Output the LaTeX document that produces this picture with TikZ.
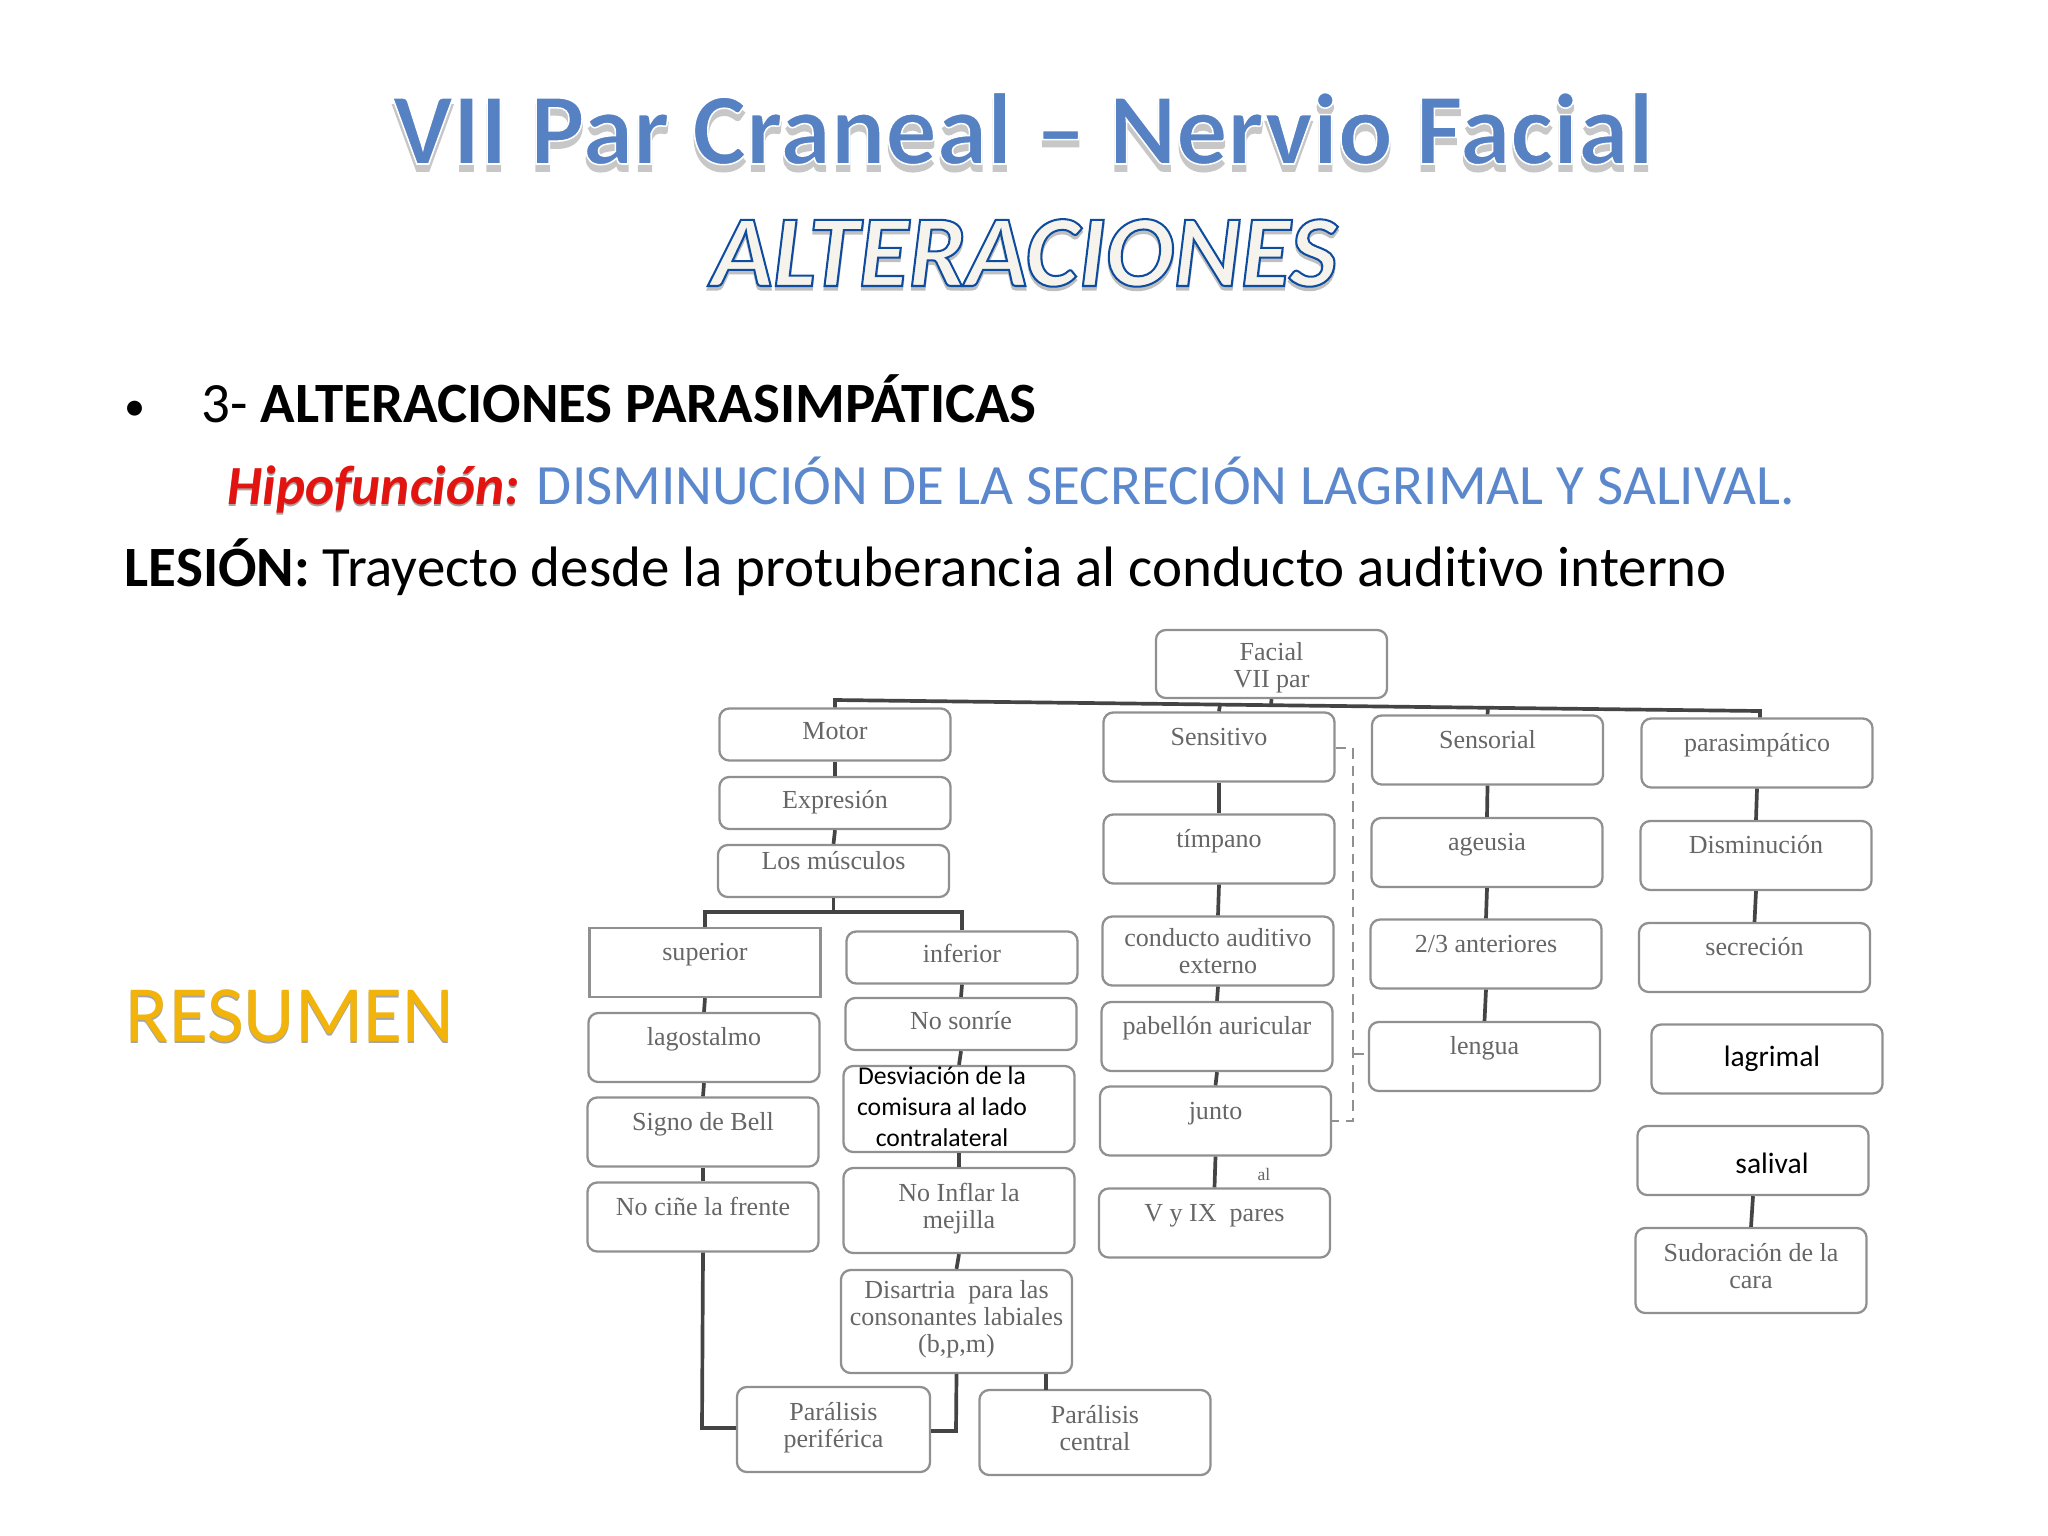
\documentclass[tikz,border=0pt]{standalone}
\usepackage{fontspec}
\setmainfont[Ligatures=NoCommon]{Carlito}
\newfontfamily\scanfont{Liberation Serif}
\newfontface\titlefont[FakeBold=1.5]{Carlito Bold}
\newfontface\altfont[FakeBold=2]{Carlito Bold Italic}
\definecolor{boxgray}{HTML}{909090}
\definecolor{wiregray}{HTML}{444444}
\definecolor{scangray}{HTML}{666666}
\definecolor{titleblue}{HTML}{5682C4}
\definecolor{altfill}{HTML}{F5F3EC}
\definecolor{lineblue}{HTML}{5B88CC}
\definecolor{hipored}{HTML}{E3140F}
\definecolor{resumenyellow}{HTML}{F2B40A}
\newcommand{\castshadow}[3]{\rlap{\raisebox{#1}{\color{#2}#3}}}
\newcommand{\lift}[1]{\rule[-#1]{0pt}{#1}}
\tikzset{
	scanbox/.style={draw=boxgray,line width=.65pt,rounded corners=2.8pt,minimum width=2.31cm,inner sep=.02cm,font=\scanfont\fontsize{7.4}{7.7}\selectfont,text=scangray,align=center},
	shortbox/.style={scanbox,minimum height=.52cm},
	tallbox/.style={scanbox,minimum height=.69cm},
	raised/.style={text height=.18cm,text depth=.22cm},
	level/.style={text height=.18cm,text depth=.08cm},
	wire/.style={draw=wiregray,line width=1.05pt},
	dashwire/.style={draw=boxgray,line width=.55pt,densely dashed},
	slidetext/.style={anchor=base west,inner sep=0pt,font=\fontsize{16.2}{20}\selectfont},
	overtext/.style={inner sep=0pt,align=center,text=black,font=\fontsize{7.3}{8.8}\selectfont},
	overword/.style={overtext,font=\fontsize{8.4}{10}\selectfont}
}
\begin{document}
\begin{tikzpicture}[x=.01cm,y=-.01cm]
	\useasboundingbox (0,0) rectangle (2048,1536);

	\node[anchor=base,inner sep=0pt] (title) at (1023,164) {\fontsize{29}{34}\titlefont\castshadow{-2pt}{black!22}{VII Par Craneal – Nervio Facial}\color{titleblue}\special{pdf:code 1 1 1 RG}VII Par Craneal – Nervio Facial};
	\node[anchor=base,inner sep=0pt] (alteraciones) at (1024,286) {\fontsize{29}{34}\altfont\castshadow{-1pt}{black!25}{ALTERACIONES}\color{altfill}\special{pdf:code 0.05 0.30 0.62 RG}ALTERACIONES};

	\node[slidetext,font=\fontsize{12}{20}\selectfont] (bullet) at (124,420) {•};
	\node[slidetext] (parasimp) at (201,422) {3- \textbf{ALTERACIONES PARASIMPÁTICAS}};
	\node[slidetext] (hipo) at (227,504) {{\fontsize{15.7}{20}\selectfont\bfseries\itshape\castshadow{-.8pt}{black!35}{Hipofunción:}\color{hipored}Hipofunción:} \textcolor{lineblue}{DISMINUCIÓN DE LA SECRECIÓN LAGRIMAL Y SALIVAL.}};
	\node[slidetext] (lesion) at (124,586) {\textbf{LESIÓN:} Trayecto desde la protuberancia al conducto auditivo interno};
	\node[slidetext,font=\fontsize{22.7}{28}\selectfont] (resumen) at (125,1041) {\castshadow{-.8pt}{black!35}{RESUMEN}\color{resumenyellow}RESUMEN};

	\node[scanbox,minimum height=.68cm] (facial) at (1271.5,664) {\rule{0pt}{.255cm}Facial\\VII par};
	\node[shortbox,level] (motor) at (835,734.5) {Motor};
	\node[shortbox,level] (expresion) at (835,803) {Expresión};
	\node[shortbox,raised] (musculos) at (833.5,871) {Los músculos};
	\node[tallbox,raised,sharp corners] (superior) at (705,962.5) {superior};
	\node[shortbox,level] (inferior) at (962,957.5) {inferior};
	\node[shortbox,level] (sonrie) at (961,1024) {No sonríe};
	\node[tallbox,raised] (lagostalmo) at (704,1047.5) {lagostalmo};
	\node[tallbox,raised] (bell) at (703,1132) {Signo de Bell};
	\node[tallbox,raised] (frente) at (703,1217) {No ciñe la frente};
	\node[scanbox,minimum height=.86cm] (desviacion) at (959,1109) {};
	\node[scanbox,minimum height=.85cm] (mejilla) at (959,1210.5) {No Inflar la\\mejilla\lift{.10cm}};
	\node[scanbox,minimum height=1.03cm] (disartria) at (956.5,1321.5) {Disartria\ \ para las\\consonantes labiales\\(b,p,m)\lift{.10cm}};
	\node[scanbox,minimum width=1.93cm,minimum height=.85cm] (periferica) at (833.5,1429.5) {Parálisis\\periférica\lift{.10cm}};
	\node[scanbox,minimum height=.85cm] (central) at (1095,1432.5) {Parálisis\\central\lift{.10cm}};

	\node[tallbox,raised] (sensitivo) at (1219,747) {Sensitivo};
	\node[tallbox,raised] (timpano) at (1219,849) {tímpano};
	\node[tallbox] (conducto) at (1218,951) {conducto auditivo\\externo};
	\node[tallbox,raised] (pabellon) at (1217,1036.5) {pabellón auricular};
	\node[tallbox,raised] (junto) at (1215.5,1121) {junto};
	\node[tallbox,raised] (pares) at (1214.5,1223) {V y IX\ \ pares};

	\node[tallbox,raised] (sensorial) at (1487.5,750) {Sensorial};
	\node[tallbox,raised] (ageusia) at (1487,852.5) {ageusia};
	\node[tallbox,raised] (anteriores) at (1486,954) {2/3 anteriores};
	\node[tallbox,raised] (lengua) at (1484.5,1056.5) {lengua};

	\node[tallbox,raised] (parasimpatico) at (1757,753) {parasimpático};
	\node[tallbox,raised] (disminucion) at (1756,855.5) {Disminución};
	\node[tallbox,raised] (secrecion) at (1754.5,957.5) {secreción};
	\node[tallbox] (lagrimal) at (1767,1059) {};
	\node[tallbox] (salival) at (1753,1160.5) {};
	\node[scanbox,minimum height=.85cm] (sudoracion) at (1751,1270.5) {Sudoración de la\\cara\lift{.10cm}};

	\node[overtext] (desviaciontxt) at (942,1107) {Desviación de la\\comisura al lado\\contralateral};
	\node[overword] (lagrimaltxt) at (1772,1059) {lagrimal};
	\node[overword] (salivaltxt) at (1772,1163) {salival};
	\node[inner sep=0pt,text=scangray,font=\scanfont\fontsize{5}{6}\selectfont] (al) at (1264,1174) {al};

	\coordinate (busleft) at (835,700);
	\coordinate (busright) at (1760,711);
	\coordinate (busfacial) at (1271,705.2);
	\coordinate (bussensitivo) at (1220,704.6);
	\coordinate (bussensorial) at (1488,707.6);
	\coordinate (mbusleft) at (705,912);
	\coordinate (mbusright) at (962,912);
	\coordinate (leftelbow) at (702,1428);
	\coordinate (rightelbow) at (956,1431);
	\coordinate (centralstub) at (1046,1390);
	\coordinate (dashtop) at (1353,748);
	\coordinate (dashbottom) at (1353,1121);
	\coordinate (dashlengua) at (1353,1054);

	\draw[wire] (motor.north) -- (busleft) -- (busright) -- (busright |- parasimpatico.north);
	\draw[wire] (facial.south) -- (busfacial);
	\draw[wire] (bussensitivo) -- (sensitivo.north);
	\draw[wire] (bussensorial) -- (sensorial.north);
	\draw[wire] (motor.south) -- (expresion.north);
	\draw[wire] (expresion.south) -- (musculos.north);
	\draw[wire] (musculos.south) -- (musculos.south |- mbusleft);
	\draw[wire] (superior.north) -- (mbusleft) -- (mbusright) -- (inferior.north);
	\draw[wire] (superior.south) -- (lagostalmo.north);
	\draw[wire] (lagostalmo.south) -- (bell.north);
	\draw[wire] (bell.south) -- (frente.north);
	\draw[wire] (frente.south) -- (leftelbow) -- (leftelbow -| periferica.west);
	\draw[wire] (inferior.south) -- (sonrie.north);
	\draw[wire] (sonrie.south) -- (desviacion.north);
	\draw[wire] (desviacion.south) -- (mejilla.north);
	\draw[wire] (mejilla.south) -- (disartria.north);
	\draw[wire] (disartria.south) -- (rightelbow) -- (rightelbow -| periferica.east);
	\draw[wire] (centralstub |- disartria.south) -- (centralstub);
	\draw[wire] (sensitivo.south) -- (timpano.north);
	\draw[wire] (timpano.south) -- (conducto.north);
	\draw[wire] (conducto.south) -- (pabellon.north);
	\draw[wire] (pabellon.south) -- (junto.north);
	\draw[wire] (junto.south) -- (pares.north);
	\draw[wire] (sensorial.south) -- (ageusia.north);
	\draw[wire] (ageusia.south) -- (anteriores.north);
	\draw[wire] (anteriores.south) -- (lengua.north);
	\draw[wire] (parasimpatico.south) -- (disminucion.north);
	\draw[wire] (disminucion.south) -- (secrecion.north);
	\draw[wire] (salival.south) -- (sudoracion.north);
	\draw[dashwire] (sensitivo.east |- dashtop) -- (dashtop) -- (dashbottom) -- (junto.east |- dashbottom);
	\draw[dashwire] (dashlengua) -- (lengua.west |- dashlengua);
\end{tikzpicture}
\end{document}
